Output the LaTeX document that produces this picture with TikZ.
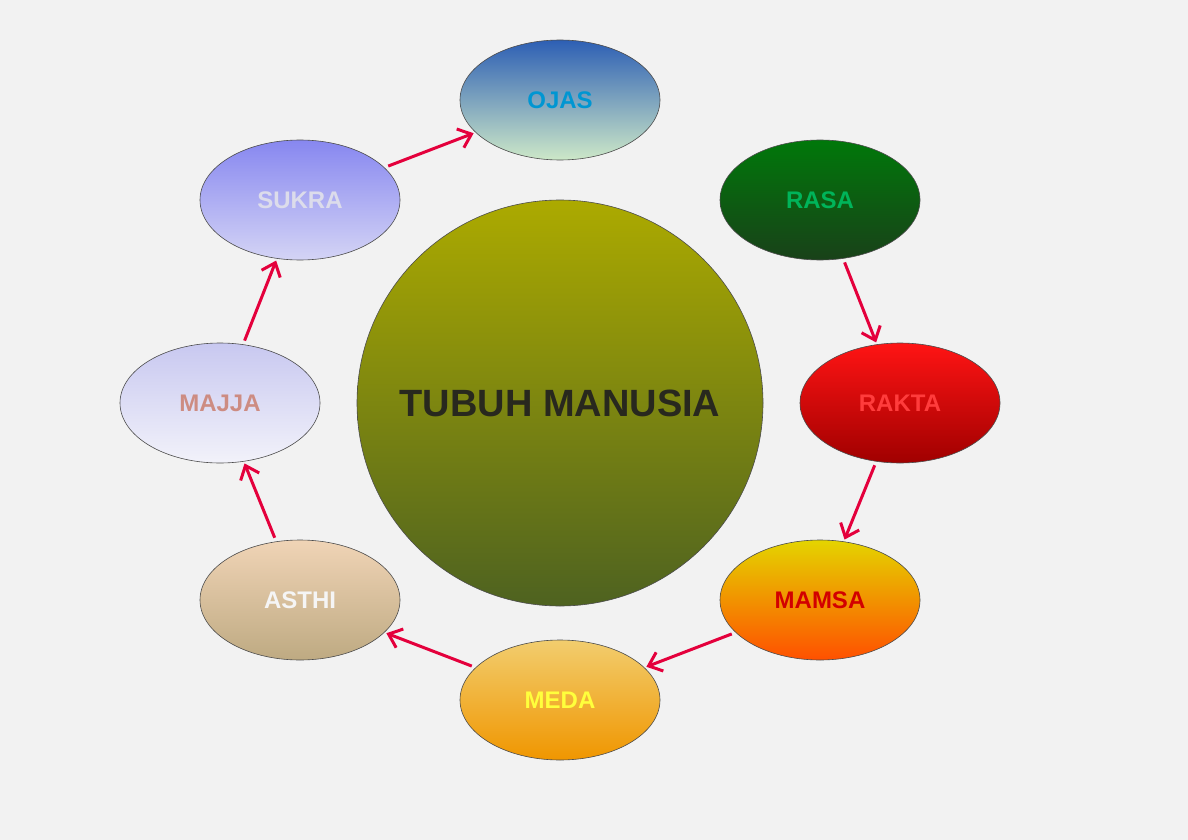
\documentclass[tikz,border=0pt]{standalone}
\usepackage{fontspec}
\setmainfont{Liberation Sans}
\usetikzlibrary{shapes.geometric,arrows.meta}
\definecolor{bg}{RGB}{242,242,242}
\definecolor{arr}{RGB}{228,0,60}
\tikzset{
 el/.style={ellipse,draw=black!70,line width=0.6pt,minimum width=200pt,minimum height=120pt,font=\bfseries\fontsize{24}{26}\selectfont,inner sep=0pt},
 flow/.style={draw=arr,line width=3pt,-{Straight Barb[length=12pt,width=20pt,line width=3pt]},shorten >=2pt,shorten <=4pt}
}
\begin{document}
\begin{tikzpicture}[x=1pt,y=-1pt]
\fill[bg] (0,0) rectangle (1188,840);
\useasboundingbox (0,0) rectangle (1188,840);
\node[circle,draw=black!70,line width=0.6pt,minimum size=406pt,top color={rgb,255:red,172;green,170;blue,0},bottom color={rgb,255:red,78;green,98;blue,32},font=\bfseries\fontsize{38}{40}\selectfont,text={rgb,255:red,40;green,40;blue,30}] (body) at (560,403) {TUBUH MANUSIA};
\node[el,top color={rgb,255:red,45;green,95;blue,180},bottom color={rgb,255:red,205;green,232;blue,200},text={rgb,255:red,0;green,150;blue,210}] (ojas) at (560,100) {OJAS};
\node[el,top color={rgb,255:red,0;green,120;blue,10},bottom color={rgb,255:red,25;green,65;blue,25},text={rgb,255:red,0;green,180;blue,90}] (rasa) at (820,200) {RASA};
\node[el,top color={rgb,255:red,255;green,20;blue,20},bottom color={rgb,255:red,160;green,0;blue,0},text={rgb,255:red,255;green,60;blue,60}] (rakta) at (900,403) {RAKTA};
\node[el,top color={rgb,255:red,228;green,212;blue,0},bottom color={rgb,255:red,255;green,80;blue,0},text={rgb,255:red,210;green,0;blue,0}] (mamsa) at (820,600) {MAMSA};
\node[el,top color={rgb,255:red,242;green,205;blue,110},bottom color={rgb,255:red,240;green,150;blue,0},text={rgb,255:red,255;green,255;blue,60}] (meda) at (560,700) {MEDA};
\node[el,top color={rgb,255:red,240;green,212;blue,182},bottom color={rgb,255:red,190;green,170;blue,130},text={rgb,255:red,245;green,245;blue,245}] (asthi) at (300,600) {ASTHI};
\node[el,top color={rgb,255:red,200;green,200;blue,240},bottom color={rgb,255:red,242;green,242;blue,250},text={rgb,255:red,205;green,140;blue,130}] (majja) at (220,403) {MAJJA};
\node[el,top color={rgb,255:red,135;green,135;blue,240},bottom color={rgb,255:red,212;green,212;blue,245},text={rgb,255:red,220;green,220;blue,235}] (sukra) at (300,200) {SUKRA};
\draw[flow] (rasa) -- (rakta);
\draw[flow] (rakta) -- (mamsa);
\draw[flow] (mamsa) -- (meda);
\draw[flow] (meda) -- (asthi);
\draw[flow] (asthi) -- (majja);
\draw[flow] (majja) -- (sukra);
\draw[flow] (sukra) -- (ojas);
\end{tikzpicture}
\end{document}
